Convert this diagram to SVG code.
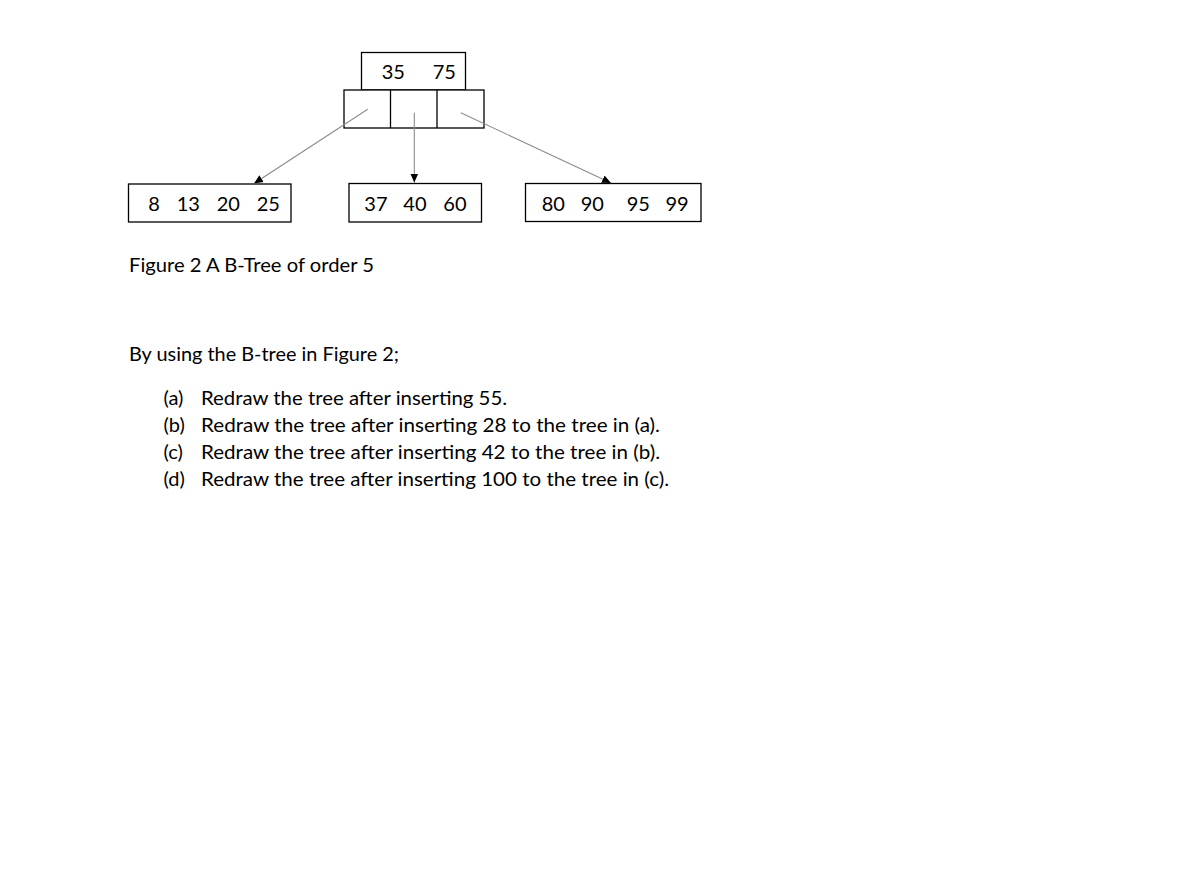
<svg xmlns="http://www.w3.org/2000/svg" width="1179" height="876" viewBox="0 0 1179 876">
<style>
.box{fill:#ffffff;stroke:#000000;stroke-width:1.3}
.num{font-family:Lato,"Open Sans","Liberation Sans",sans-serif;font-size:20px;fill:#000000}
.txt{font-family:Lato,"Open Sans","Liberation Sans",sans-serif;font-size:20px;fill:#000000}
.edge{stroke:#8c8c8c;stroke-width:1.1;fill:none}
</style>
<defs>
<marker id="arr" markerUnits="userSpaceOnUse" markerWidth="10" markerHeight="10" viewBox="0 0 10 10" refX="9" refY="5" orient="auto">
<path d="M0,1 L9,5 L0,9 Z" fill="#000000"/>
</marker>
</defs>
<rect width="1179" height="876" fill="#ffffff"/>
<g id="root">
<rect class="box" x="361.5" y="52.5" width="104" height="37.5"/>
<rect class="box" x="344" y="90" width="140" height="38"/>
<line stroke="#000" stroke-width="1.3" x1="390.5" y1="90" x2="390.5" y2="128"/>
<line stroke="#000" stroke-width="1.3" x1="437" y1="90" x2="437" y2="128"/>
<text class="num" y="79"><tspan x="381.7">35</tspan><tspan x="432.7">75</tspan></text>
</g>
<g id="leaf1">
<rect class="box" x="128.5" y="184" width="162.5" height="38"/>
<text class="num" y="210.5"><tspan x="148.3">8</tspan><tspan x="176.7">13</tspan><tspan x="216.7">20</tspan><tspan x="256.7">25</tspan></text>
</g>
<g id="leaf2">
<rect class="box" x="349" y="183.5" width="132.5" height="38.5"/>
<text class="num" y="210.5"><tspan x="364.3">37</tspan><tspan x="403.3">40</tspan><tspan x="443.3">60</tspan></text>
</g>
<g id="leaf3">
<rect class="box" x="525.5" y="183.5" width="175.5" height="38"/>
<text class="num" y="210.5"><tspan x="541.7">80</tspan><tspan x="580.7">90</tspan><tspan x="626.7">95</tspan><tspan x="665.5">99</tspan></text>
</g>
<g id="connectors">
<line class="edge" x1="367.7" y1="109.3" x2="254" y2="183.5" marker-end="url(#arr)"/>
<line class="edge" x1="414.3" y1="112.7" x2="414.3" y2="182.5" marker-end="url(#arr)"/>
<line class="edge" x1="460.7" y1="112.7" x2="611" y2="183" marker-end="url(#arr)"/>
</g>
<text class="txt" x="129" y="271.5" textLength="245" lengthAdjust="spacingAndGlyphs">Figure 2 A B-Tree of order 5</text>
<text class="txt" x="129" y="361" textLength="270" lengthAdjust="spacingAndGlyphs">By using the B-tree in Figure 2;</text>
<text class="txt" x="163.5" y="405">(a)</text>
<text class="txt" x="201" y="405" textLength="306" lengthAdjust="spacingAndGlyphs">Redraw the tree after inserting 55.</text>
<text class="txt" x="163.5" y="432">(b)</text>
<text class="txt" x="201" y="432" textLength="459" lengthAdjust="spacingAndGlyphs">Redraw the tree after inserting 28 to the tree in (a).</text>
<text class="txt" x="163.5" y="459">(c)</text>
<text class="txt" x="201" y="459" textLength="459" lengthAdjust="spacingAndGlyphs">Redraw the tree after inserting 42 to the tree in (b).</text>
<text class="txt" x="163.5" y="486">(d)</text>
<text class="txt" x="201" y="486" textLength="468" lengthAdjust="spacingAndGlyphs">Redraw the tree after inserting 100 to the tree in (c).</text>
</svg>
